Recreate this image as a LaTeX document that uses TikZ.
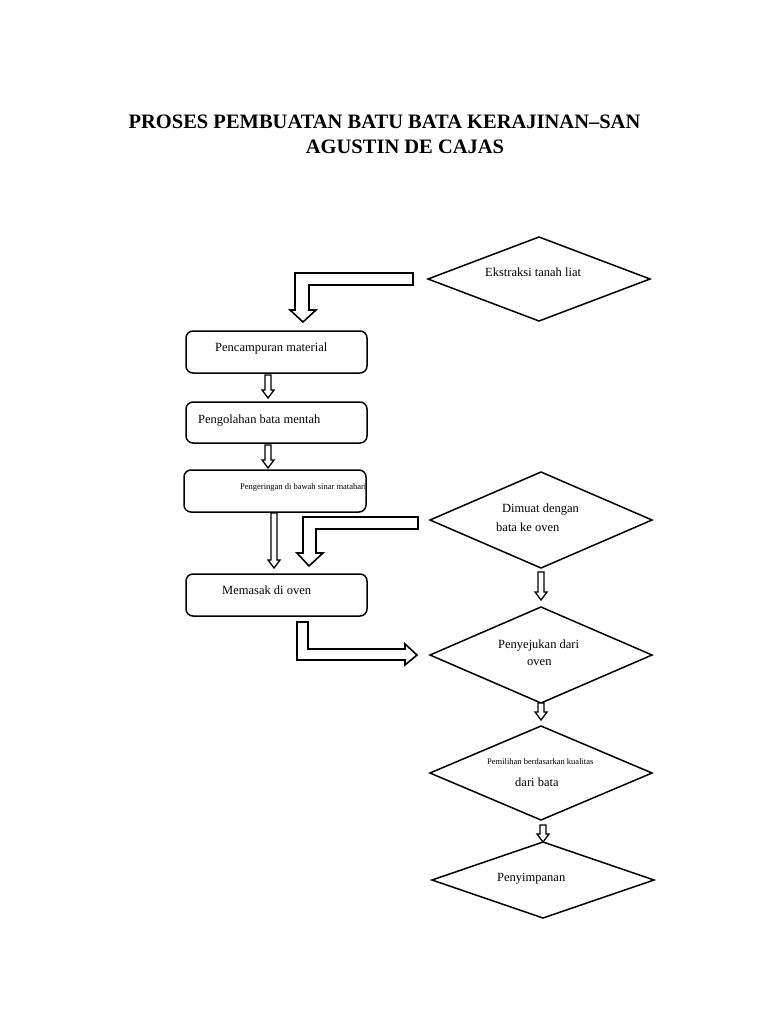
\documentclass[tikz,border=0pt]{standalone}
\usepackage{fontspec}
\setmainfont{Liberation Serif}
\tikzset{box/.style={draw,line width=1.5pt,rounded corners=7pt},
  blk/.style={draw,line width=1.6pt,fill=white},
  txt/.style={anchor=west,inner sep=0pt,font=\fontsize{12.5}{14}\selectfont},
  tiny/.style={anchor=west,inner sep=0pt,font=\fontsize{8.5}{10}\selectfont}}
\newcommand{\dia}[5]{\draw[line width=1.5pt] (#2-#4,#3) -- (#2,#3-#5) -- (#2+#4,#3) -- (#2,#3+#5) -- cycle;
  \coordinate (#1) at (#2,#3);}
% small down arrow: x, top, tip
\newcommand{\dnarrow}[3]{\draw[blk,line width=1.3pt] (#1-3,#2) -- (#1+3,#2) -- (#1+3,#3-8) -- (#1+6,#3-8) -- (#1,#3) -- (#1-6,#3-8) -- (#1-3,#3-8) -- cycle;}
\begin{document}
\begin{tikzpicture}[x=1pt,y=-1pt]
\useasboundingbox (0,0) rectangle (768,1024);
% title
\node (t1) at (384.5,122) {\fontsize{20.5}{22}\selectfont\bfseries PROSES PEMBUATAN BATU BATA KERAJINAN–SAN};
\node (t2) at (405,147) {\fontsize{20.5}{22}\selectfont\bfseries AGUSTIN DE CAJAS};
% boxes
\draw[box] (186,331) rectangle (367,373);
\draw[box] (186,402) rectangle (367,443);
\draw[box] (184,470) rectangle (366,512);
\draw[box] (186,574) rectangle (367,616);
\node[txt] (b1) at (215,348) {Pencampuran material};
\node[txt] (b2) at (198,421) {Pengolahan bata mentah};
\node[tiny] (b3) at (240,487) {Pengeringan di bawah sinar matahari};
\node[txt] (b4) at (222,590) {Memasak di oven};
% decisions
\dia{d1}{539}{279}{111}{42}
\dia{d2}{541}{520}{111}{48}
\dia{d3}{541}{655}{111}{48}
\dia{d4}{541}{773}{111}{47}
\dia{d5}{543}{880}{111}{38}
\node[txt] (e1) at (485,272) {Ekstraksi tanah liat};
\node[txt] (e2) at (502,510) {Dimuat dengan};
\node[txt] (e2b) at (496,527) {bata ke oven};
\node[txt] (e3) at (498,646) {Penyejukan dari};
\node[txt] (e3b) at (527,663) {oven};
\node[tiny] (e4) at (487,762) {Pemilihan berdasarkan kualitas};
\node[txt] (e4b) at (515,782) {dari bata};
\node[txt] (e5) at (497,879) {Penyimpanan};
% block arrows
\draw[blk] (413,273) -- (413,285) -- (309,285) -- (309,310) -- (316,310) -- (303,322)
  -- (290,310) -- (295,310) -- (295,273) -- cycle;
\draw[blk] (418,517) -- (418,529) -- (316,529) -- (316,553) -- (323,553) -- (309,566)
  -- (297,553) -- (303,553) -- (303,517) -- cycle;
\draw[blk] (297,622) -- (308,622) -- (308,649) -- (405,649) -- (405,644) -- (417,655)
  -- (405,665) -- (405,660) -- (297,660) -- cycle;
\dnarrow{268}{375}{398}
\dnarrow{268}{445}{468}
\dnarrow{274}{513}{568}
\dnarrow{541}{572}{600}
\dnarrow{541}{703}{720}
\dnarrow{543}{825}{842}
\end{tikzpicture}
\end{document}
